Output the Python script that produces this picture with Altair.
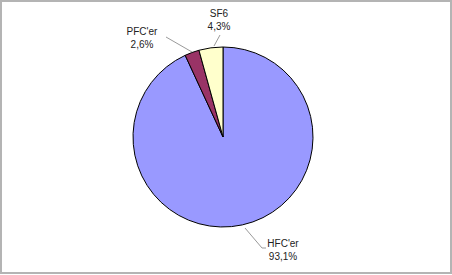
import altair as alt
import pandas as pd

categories = ["HFC'er", "PFC'er", "SF6"]
values = [93.1, 2.6, 4.3]
colors = ["#9999FF", "#993366", "#FFFFCC"]

df = pd.DataFrame({
    "cat": categories,
    "val": values,
    "idx": list(range(len(categories))),
})
df["label"] = [f"{c}\n{str(v).replace('.', ',')}%" for c, v in zip(categories, values)]

W, H = 452, 275
CX, CY, R = 223, 137, 90

pie = alt.Chart(df).mark_arc(outerRadius=R, stroke="black", strokeWidth=1).encode(
    theta=alt.Theta("val:Q", stack=True),
    color=alt.Color("cat:N", scale=alt.Scale(domain=categories, range=colors), legend=None),
    order=alt.Order("idx:Q"),
    x=alt.value(CX),
    y=alt.value(CY),
)

# label placement (layout only)
label_pos = {"HFC'er": (283, 244), "PFC'er": (142, 31.5), "SF6": (219, 14)}
leaders = {
    "HFC'er": [(245, 228, 262, 248), (262, 248, 266, 248)],
    "PFC'er": [(166, 37, 192, 52)],
    "SF6": [(220, 35, 214, 46)],
}

layers = [pie]
for cat in categories:
    sub = df[df["cat"] == cat]
    lx, ly = label_pos[cat]
    layers.append(
        alt.Chart(sub).mark_text(
            font="Liberation Sans", fontSize=10, color="#222222",
            lineBreak="\n", lineHeight=13, align="center", baseline="middle",
        ).encode(text="label:N", x=alt.value(lx), y=alt.value(ly))
    )
    for (x1, y1, x2, y2) in leaders[cat]:
        layers.append(
            alt.Chart(sub).mark_rule(color="#9a9a9a", strokeWidth=1).encode(
                x=alt.value(x1), y=alt.value(y1), x2=alt.value(x2), y2=alt.value(y2)
            )
        )

border = alt.Chart(df.head(1)).mark_rect(
    fill="transparent", stroke="#b4b4b4", strokeWidth=2
).encode(x=alt.value(1), y=alt.value(1), x2=alt.value(451), y2=alt.value(273))
layers.append(border)

chart = alt.layer(*layers).properties(
    width=W, height=H, padding=0,
    autosize=alt.AutoSizeParams(type="none"),
    background="white",
).configure_view(strokeWidth=0)

chart.save("out.html", embed_options={"renderer": "svg", "actions": False})
